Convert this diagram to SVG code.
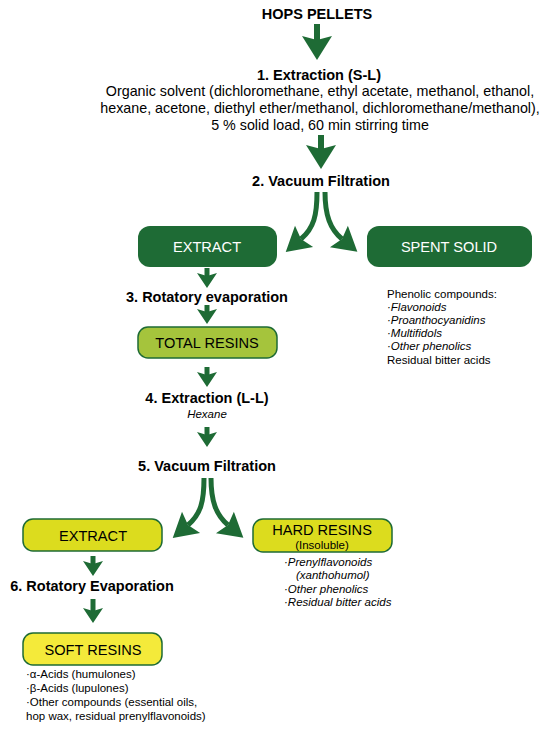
<svg xmlns="http://www.w3.org/2000/svg" width="550" height="729" viewBox="0 0 550 729">
<style>
text{font-family:"Liberation Sans",Arial,sans-serif;fill:#000}
.h{font-size:14.5px;font-weight:bold;text-anchor:middle}
.b{font-size:14.3px;text-anchor:middle}
.s{font-size:11.5px}
.i{font-style:italic}
.w{fill:#fff;font-size:14.6px;text-anchor:middle}
.k{font-size:14.6px;text-anchor:middle}
.ln{stroke:#1e6b35;fill:none}
.dark{fill:#1e6b35}
.tot{fill:#a5c43c;stroke:#1e6b35;stroke-width:1.5}
.yel{fill:#dcdc1e;stroke:#1e6b35;stroke-width:1.5}
.soft{fill:#f4ea3a;stroke:#1e6b35;stroke-width:1.5}
</style>
<defs>
<marker id="big" markerUnits="userSpaceOnUse" markerWidth="30" markerHeight="32" refX="4" refY="16" orient="auto" overflow="visible"><path d="M0,1 L24,16 L0,31 L4,16 Z" fill="#1e6b35"/></marker>
<marker id="cur" markerUnits="userSpaceOnUse" markerWidth="30" markerHeight="30" refX="4" refY="14" orient="auto" overflow="visible"><path d="M0,0 L24,14 L0,28 L4,14 Z" fill="#1e6b35"/></marker>
<marker id="sm" markerUnits="userSpaceOnUse" markerWidth="20" markerHeight="22" refX="3" refY="10" orient="auto" overflow="visible"><path d="M0,0 L15,10 L0,20 L3,10 Z" fill="#1e6b35"/></marker>
</defs>

<g id="connectors">
<path class="ln" stroke-width="6" d="M317,24 V40" marker-end="url(#big)"/>
<path class="ln" stroke-width="6" d="M321,135 V149" marker-end="url(#big)"/>
<path class="ln" stroke-width="5" d="M317,192 C317,215 314,228 301,239" marker-end="url(#cur)"/>
<path class="ln" stroke-width="5" d="M325,192 C325,215 330,229 342,239" marker-end="url(#cur)"/>
<path class="ln" stroke-width="5" d="M207,268 V276" marker-end="url(#sm)"/>
<path class="ln" stroke-width="5" d="M207,305 V312" marker-end="url(#sm)"/>
<path class="ln" stroke-width="5" d="M207,367 V375" marker-end="url(#sm)"/>
<path class="ln" stroke-width="5" d="M207,427 V435" marker-end="url(#sm)"/>
<path class="ln" stroke-width="5" d="M204,478 C204,501 201,514 188,525" marker-end="url(#cur)"/>
<path class="ln" stroke-width="5" d="M211,478 C211,501 216,515 228,525" marker-end="url(#cur)"/>
<path class="ln" stroke-width="5" d="M93,556 V564" marker-end="url(#sm)"/>
<path class="ln" stroke-width="5" d="M93,599 V611" marker-end="url(#sm)"/>
</g>

<g id="hops"><text class="h" x="317" y="19">HOPS PELLETS</text></g>
<g id="step1">
<text class="h" x="319" y="80">1. Extraction (S-L)</text>
<text class="b" x="320" y="96">Organic solvent (dichloromethane, ethyl acetate, methanol, ethanol,</text>
<text class="b" x="320" y="113">hexane, acetone, diethyl ether/methanol, dichloromethane/methanol),</text>
<text class="b" x="320" y="130">5 % solid load, 60 min stirring time</text>
</g>
<g id="step2"><text class="h" x="321" y="186">2. Vacuum Filtration</text></g>

<g id="extract1">
<rect class="dark" x="138" y="226" width="139" height="41" rx="12"/>
<text class="w" x="207" y="252">EXTRACT</text>
</g>
<g id="spent">
<rect class="dark" x="367" y="226" width="165" height="41" rx="12"/>
<text class="w" x="449" y="252">SPENT SOLID</text>
</g>
<g id="spent-list">
<text class="s" x="387" y="298">Phenolic compounds:</text>
<text class="s i" x="387" y="311">·Flavonoids</text>
<text class="s i" x="387" y="324">·Proanthocyanidins</text>
<text class="s i" x="387" y="337">·Multifidols</text>
<text class="s i" x="387" y="350">·Other phenolics</text>
<text class="s" x="387" y="364">Residual bitter acids</text>
</g>

<g id="step3"><text class="h" x="207" y="302">3. Rotatory evaporation</text></g>
<g id="total">
<rect class="tot" x="138" y="327" width="139" height="31" rx="10"/>
<text class="k" x="207" y="348">TOTAL RESINS</text>
</g>
<g id="step4">
<text class="h" x="207" y="403">4. Extraction (L-L)</text>
<text class="s i" x="207" y="418" text-anchor="middle">Hexane</text>
</g>
<g id="step5"><text class="h" x="207" y="471">5. Vacuum Filtration</text></g>

<g id="extract2">
<rect class="yel" x="23" y="519" width="139" height="32" rx="10"/>
<text class="k" x="93" y="541">EXTRACT</text>
</g>
<g id="hard">
<rect class="yel" x="253" y="519" width="139" height="33" rx="10"/>
<text class="k" x="322" y="535">HARD RESINS</text>
<text class="s" x="322" y="549" text-anchor="middle">(Insoluble)</text>
</g>
<g id="hard-list">
<text class="s i" x="284" y="566">·Prenylflavonoids</text>
<text class="s i" x="296" y="579">(xanthohumol)</text>
<text class="s i" x="284" y="593">·Other phenolics</text>
<text class="s i" x="284" y="606">·Residual bitter acids</text>
</g>

<g id="step6"><text class="h" x="92" y="591">6. Rotatory Evaporation</text></g>
<g id="soft">
<rect class="soft" x="23" y="633" width="139" height="32" rx="10"/>
<text class="k" x="93" y="655">SOFT RESINS</text>
</g>
<g id="soft-list">
<text class="s" x="26" y="678">·α-Acids (humulones)</text>
<text class="s" x="26" y="692">·β-Acids (lupulones)</text>
<text class="s" x="26" y="706">·Other compounds (essential oils,</text>
<text class="s" x="26" y="720">hop wax, residual prenylflavonoids)</text>
</g>
</svg>
